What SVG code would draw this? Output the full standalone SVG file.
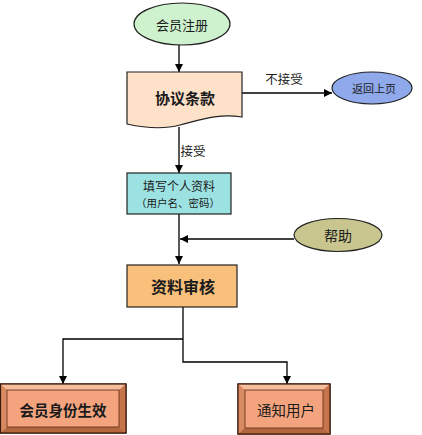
<svg xmlns="http://www.w3.org/2000/svg" width="422" height="435" viewBox="0 0 422 435">
<defs>
<style>
.t{font-family:"Noto Sans CJK SC","Noto Sans",sans-serif;fill:#1a1a1a;text-anchor:middle;dominant-baseline:central}
.b{font-weight:bold}
.ln{fill:none;stroke:#000;stroke-width:1.3}
.ol{stroke:#222;stroke-width:1.2}
</style>
<marker id="ar" viewBox="0 0 10 10" refX="10" refY="5" markerWidth="8" markerHeight="8" markerUnits="userSpaceOnUse" orient="auto">
<path d="M0,0 L10,5 L0,10 Z" fill="#000"/>
</marker>
</defs>
<rect width="422" height="435" fill="#fff"/>
<g id="connectors">
<path class="ln" d="M179,45 V72" marker-end="url(#ar)"/>
<path class="ln" d="M242,93 H332" marker-end="url(#ar)"/>
<text class="t" x="284" y="78" font-size="12.5">不接受</text>
<path class="ln" d="M179,127 V173" marker-end="url(#ar)"/>
<text class="t" x="193" y="150" font-size="12.5">接受</text>
<path class="ln" d="M179,214 V264" marker-end="url(#ar)"/>
<path class="ln" d="M294,239 H180" marker-end="url(#ar)"/>
<path class="ln" d="M183,307 V362 H287 V384" marker-end="url(#ar)"/>
<path class="ln" d="M183,339 H63 V384" marker-end="url(#ar)"/>
</g>
<g id="n-register">
<ellipse cx="182" cy="24" rx="48" ry="21" fill="#CDF2CD" class="ol"/>
<text class="t" x="182" y="24" font-size="13">会员注册</text>
</g>
<g id="n-terms">
<path d="M127,72 H242 V117 C218,113 200,120 180,125 C162,130 145,128 127,124 Z" fill="#FDE1C8" class="ol"/>
<text class="t b" x="185" y="97" font-size="15">协议条款</text>
</g>
<g id="n-back">
<ellipse cx="372" cy="88" rx="40" ry="16" fill="#8FA9EA" class="ol"/>
<text class="t" x="374" y="88" font-size="11">返回上页</text>
</g>
<g id="n-fill">
<rect x="127" y="173" width="104" height="41" fill="#9DE2E2" class="ol"/>
<text class="t" x="179" y="185" font-size="12">填写个人资料</text>
<text class="t" x="178" y="202" font-size="10.5">（用户名、密码）</text>
</g>
<g id="n-help">
<ellipse cx="338" cy="235" rx="44" ry="16.5" fill="#C9C58F" class="ol"/>
<text class="t" x="338" y="235" font-size="14">帮助</text>
</g>
<g id="n-review">
<rect x="127" y="265" width="110" height="42" fill="#F9C07C" class="ol"/>
<text class="t b" x="183" y="286" font-size="16">资料审核</text>
</g>
<g id="n-active">
<rect x="0.5" y="384" width="125.5" height="49" fill="#F3A47E" stroke="#3a1a0a" stroke-width="1.2"/>
<polygon points="0.5,384 126,384 119,390 7,390" fill="#F6BE9C"/>
<polygon points="0.5,384 7,390 7,427 0.5,433" fill="#D88A62"/>
<polygon points="126,384 119,390 119,427 126,433" fill="#C6744C"/>
<polygon points="0.5,433 7,427 119,427 126,433" fill="#B4663F"/>
<rect x="7" y="390" width="112" height="37" fill="#F3A47E" stroke="#5a2a14" stroke-width="0.8"/>
<rect x="0.5" y="384" width="125.5" height="49" fill="none" stroke="#3a1a0a" stroke-width="1.2"/>
<text class="t b" x="63" y="409" font-size="14.5">会员身份生效</text>
</g>
<g id="n-notify">
<rect x="238" y="384" width="92" height="50" fill="#F3A47E" stroke="#3a1a0a" stroke-width="1.2"/>
<polygon points="238,384 330,384 323,390 245,390" fill="#F6BE9C"/>
<polygon points="238,384 245,390 245,428 238,434" fill="#D88A62"/>
<polygon points="330,384 323,390 323,428 330,434" fill="#C6744C"/>
<polygon points="238,434 245,428 323,428 330,434" fill="#B4663F"/>
<rect x="245" y="390" width="78" height="38" fill="#F3A47E" stroke="#5a2a14" stroke-width="0.8"/>
<rect x="238" y="384" width="92" height="50" fill="none" stroke="#3a1a0a" stroke-width="1.2"/>
<text class="t" x="286" y="409" font-size="14.5">通知用户</text>
</g>
</svg>
